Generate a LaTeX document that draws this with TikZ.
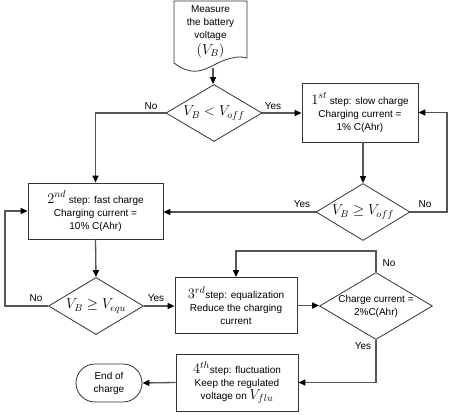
\documentclass[tikz,border=0pt]{standalone}
\usepackage{fontspec}
\setmainfont{Liberation Sans}
\usetikzlibrary{shapes.geometric,arrows.meta}
\definecolor{linec}{HTML}{555555}
\definecolor{boxc}{HTML}{333333}
\newcommand\mth[1]{{\fontsize{14}{14}\selectfont$#1$}}
\tikzset{
  stepbox/.style={draw=boxc,line width=0.8pt,fill=white,align=center,inner sep=0pt,font=\fontsize{10}{13}\selectfont},
  dia/.style={draw=boxc,line width=0.8pt,shape=diamond,inner sep=0pt},
  arr/.style={draw=linec,line width=1.3pt,-{Triangle[length=7pt,width=6pt,color=black]}},
  lbl/.style={font=\fontsize{10}{12}\selectfont,inner sep=0pt},
  mtxt/.style={inner sep=0pt,font=\fontsize{14}{16}\selectfont}
}
\begin{document}
\begin{tikzpicture}[x=1pt,y=-1pt]
\useasboundingbox[fill=white] (0,0) rectangle (453,415);
% document shape
\draw[boxc,line width=0.8pt,fill=white] (174,1) -- (247,1) -- (247,58)
  .. controls (237,55) and (225,59) .. (212,66)
  .. controls (200,72) and (190,75) .. (174,63) -- cycle;
\node[align=center,inner sep=0pt,font=\fontsize{10}{13}\selectfont] (doc) at (210.5,32) {Measure\\the battery\\voltage\\[3pt]\mth{(V_B)}};
\coordinate (docb) at (213,67.5);
% diamonds
\node[dia,minimum width=96,minimum height=57] (d1) at (214,113) {};
\node[mtxt] (d1t) at (d1) {$V_B < V_{off}$};
\node[dia,minimum width=94,minimum height=57] (d2) at (363,212) {};
\node[mtxt] (d2t) at (d2) {$V_B \geq V_{off}$};
\node[dia,minimum width=95,minimum height=57] (d3) at (96,306) {};
\node[mtxt] (d3t) at (d3) {$V_B \geq V_{equ}$};
\node[dia,minimum width=113,minimum height=67] (d4) at (376,306) {};
\node[align=center,inner sep=0pt,font=\fontsize{10}{13}\selectfont] (d4t) at (d4) {Charge current =\\2\%C(Ahr)};
% boxes
\node[stepbox,minimum width=116,minimum height=59] (b1) at (360,112.5) {\mth{1^{st}} step: slow charge\\Charging current =\\1\% C(Ahr)};
\node[stepbox,minimum width=135,minimum height=56] (b2) at (95.5,211) {\mth{2^{nd}} step: fast charge\\Charging current =\\10\% C(Ahr)};
\node[stepbox,minimum width=122,minimum height=56] (b3) at (236,305.5) {\mth{3^{rd}}step: equalization\\Reduce the charging\\current};
\node[stepbox,minimum width=122,minimum height=57] (b4) at (237,382.5) {\mth{4^{th}}step: fluctuation\\Keep the regulated\\voltage on \mth{V_{flu}}};
\node[draw=boxc,line width=0.8pt,rounded corners=19pt,minimum width=66,minimum height=38,inner sep=0pt,align=center,font=\fontsize{10}{13}\selectfont] (end) at (109,383) {End of\\charge};
% helper coordinates
\coordinate (r1) at (447,212);
\coordinate (l1) at (5,306);
\coordinate (t1) at (376,251);
% connectors
\draw[arr] (docb) -- (docb |- d1.north);
\draw[arr] (d1.east) -- (d1.east -| b1.west);
\draw[arr] (d1.west) -| (b2.north);
\draw[arr] (b1.south -| d2.north) -- (d2.north);
\draw[arr] (d2.west) -- (d2.west -| b2.east);
\draw[arr] (d2.east) -- (r1) |- (b1.east);
\draw[arr] (b2.south) -- (d3.north);
\draw[arr] (d3.west) -- (l1) |- (b2.west);
\draw[arr] (d3.east) -- (d3.east -| b3.west);
\draw[arr] (b3.east) -- (b3.east -| d4.west);
\draw[arr] (d4.north) -- (t1) -| (b3.north);
\draw[arr] (d4.south) |- (b4.east);
\draw[arr] (b4.west) -- (end.east);
% labels
\node[lbl] (n1) at (151,106) {No};
\node[lbl] (y1) at (273,106) {Yes};
\node[lbl] (y2) at (302,204) {Yes};
\node[lbl] (n2) at (425,204) {No};
\node[lbl] (n3) at (36,298) {No};
\node[lbl] (y3) at (156,298) {Yes};
\node[lbl] (n4) at (389,263) {No};
\node[lbl] (y4) at (363,346) {Yes};
\end{tikzpicture}
\end{document}
